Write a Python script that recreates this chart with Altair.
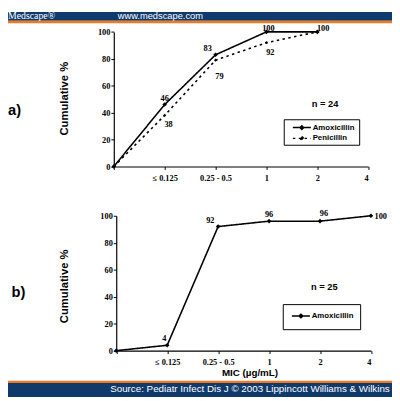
import json

import altair as alt
import pandas as pd

# MIC categories along x (first position is the unlabeled origin)
mic_labels = ["", "≤ 0.125", "0.25 - 0.5", "1", "2", "4"]

# panel a) n = 24
series_a = ["Amoxicillin", "Penicillin"]
amox_a = [0, 46, 83, 100, 100]
pen_a = [0, 38, 79, 92, 100]

# panel b) n = 25
series_b = ["Amoxicillin"]
amox_b = [0, 4, 92, 96, 96, 100]

df_a = pd.DataFrame({
    "pos": list(range(len(amox_a))) + list(range(len(pen_a))),
    "pct": amox_a + pen_a,
    "drug": [series_a[0]] * len(amox_a) + [series_a[1]] * len(pen_a),
})
df_b = pd.DataFrame({
    "pos": list(range(len(amox_b))),
    "pct": amox_b,
    "drug": [series_b[0]] * len(amox_b),
})

NAVY = "#103a6b"
ORANGE = "#f07a1e"
SERIF = "Liberation Serif"
SANS = "Liberation Sans"
W, H = 392, 393

tick_expr = json.dumps(mic_labels, ensure_ascii=False) + "[datum.value]"
legend_sym = "M-1,0H1M0,-0.2L0.2,0L0,0.2L-0.2,0Z"


def enc_xy(xr, yr, x_axis_y, y_axis_x, ytitle_x, ytitle_y, xtitle=None):
    xaxis = dict(orient="bottom", offset=x_axis_y - H, values=list(range(len(mic_labels))),
                 labelExpr=tick_expr, labelPadding=4, labelOverlap=False, title=None)
    if xtitle:
        xaxis.update(titleX=xtitle[1], titleY=xtitle[2], titleFontSize=10,
                     titleAlign="center", titleBaseline="middle")
        xaxis["title"] = xtitle[0]
    x = alt.X("pos:Q", scale=alt.Scale(domain=[0, 5], range=xr, nice=False, zero=False),
              axis=alt.Axis(**xaxis))
    y = alt.Y("pct:Q", scale=alt.Scale(domain=[0, 100], range=yr, nice=False),
              axis=alt.Axis(orient="left", offset=-y_axis_x, values=[0, 20, 40, 60, 80, 100],
                            labelPadding=1, title="Cumulative %", titleX=ytitle_x - y_axis_x,
                            titleY=ytitle_y, titleAngle=270, titleAlign="center",
                            titleBaseline="middle", titleFontSize=11.5))
    return x, y


def panel(df, series, dashes, x, y, leg_x, leg_y, offsets):
    line = alt.Chart(df).mark_line(color="black", strokeWidth=1.6).encode(
        x=x, y=y,
        strokeDash=alt.StrokeDash(
            "drug:N", scale=alt.Scale(domain=series, range=dashes),
            legend=alt.Legend(title=None, orient="none", legendX=leg_x, legendY=leg_y,
                              symbolType=legend_sym, symbolSize=340, symbolStrokeWidth=1.5,
                              symbolStrokeColor="black", symbolFillColor="black",
                              labelFont=SANS, labelFontWeight="bold", labelFontSize=8,
                              labelColor="black", labelOffset=1, rowPadding=3,
                              clipHeight=8, padding=0)),
    )
    layers = [line]
    for name, size in zip(series, [22, 10]):
        layers.append(alt.Chart(df).transform_filter(alt.datum.drug == name)
                      .mark_point(filled=True, shape="diamond", size=size, color="black",
                                  opacity=1)
                      .encode(x=x, y=y))
    for (name, idx), (dx, dy) in offsets.items():
        layers.append(alt.Chart(df)
                      .transform_filter((alt.datum.drug == name) & (alt.datum.pos == idx))
                      .mark_text(dx=dx, dy=dy, font=SERIF, fontWeight="bold", fontSize=8.5,
                                 color="black", baseline="middle")
                      .encode(x=x, y=y, text="pct:Q"))
    return alt.layer(*layers)


one = pd.DataFrame({"k": [0]})


def box(x1, x2, y1, y2, **kw):
    return alt.Chart(one).mark_rect(**kw).encode(
        x=alt.value(x1), x2=alt.value(x2), y=alt.value(y1), y2=alt.value(y2))


def note(text, x, y, **kw):
    return alt.Chart(one).mark_text(text=text, **kw).encode(x=alt.value(x), y=alt.value(y))


xa, ya = enc_xy([108, 367.7], [157.7, 20.3], 157.7, 108, 58, 88)
xb, yb = enc_xy([110.5, 370.5], [345.7, 208], 345.7, 110.5, 58, 279.5,
                xtitle=("MIC (µg/mL)", 246.5, 22.3))

labels_a = {
    ("Amoxicillin", 1): (0, -7), ("Amoxicillin", 2): (-8, -7),
    ("Amoxicillin", 3): (2, -4), ("Amoxicillin", 4): (6, -4),
    ("Penicillin", 1): (4, 9), ("Penicillin", 2): (4, 16), ("Penicillin", 3): (4, 10),
}
labels_b = {
    ("Amoxicillin", 1): (-3, -7), ("Amoxicillin", 2): (-8, -7), ("Amoxicillin", 3): (0, -7),
    ("Amoxicillin", 4): (4, -8), ("Amoxicillin", 5): (10, 0),
}

panel_a = panel(df_a, series_a, [[1, 0], [2.5, 3.5]], xa, ya, 290, 114, labels_a)
panel_b = panel(df_b, series_b, [[1, 0]], xb, yb, 289, 306.3, labels_b)

bold_sans = dict(font=SANS, fontWeight="bold", color="black")
decor = [
    box(0, W, 0, 9, color=NAVY),
    box(0, W, 9, 11.5, color=ORANGE),
    note("Medscape®", 0, 7.5, font=SERIF, fontSize=10, color="white", align="left",
         baseline="alphabetic"),
    note("www.medscape.com", 112, 7.5, font=SANS, fontSize=9.5, color="white", align="left",
         baseline="alphabetic"),
    box(0, W, 376.3, 378.7, color=ORANGE),
    box(0, W, 378.7, H, color=NAVY),
    note("Source: Pediatr Infect Dis J © 2003 Lippincott Williams & Wilkins", 389.7, 388.3,
         font=SANS, fontSize=10, color="white", align="right", baseline="alphabetic"),
    box(282, 359, 110, 136, fill="white", stroke="black", strokeWidth=1),
    box(281, 360, 298.7, 324.3, fill="white", stroke="black", strokeWidth=1),
    note("a)", 0, 100.3, fontSize=15, align="left", baseline="middle", **bold_sans),
    note("b)", 3.7, 286, fontSize=15, align="left", baseline="middle", **bold_sans),
    note("n = 24", 323.7, 93.7, fontSize=9.5, align="center", baseline="middle", **bold_sans),
    note("n = 25", 323, 280.3, fontSize=9.5, align="center", baseline="middle", **bold_sans),
]

chart = alt.layer(*decor, panel_a, panel_b).resolve_scale(
    x="independent", y="independent", strokeDash="independent"
).resolve_axis(
    x="independent", y="independent"
).resolve_legend(
    strokeDash="independent"
).properties(
    width=W, height=H, padding=0, autosize=alt.AutoSizeParams(type="none")
).configure_view(
    stroke=None
).configure_axis(
    grid=False, domainColor="black", domainWidth=1.2, tickColor="black", tickSize=3,
    labelFont=SERIF, labelFontWeight="bold", labelFontSize=8.5, labelColor="black",
    titleFont=SANS, titleFontWeight="bold", titleColor="black",
)

chart.save("out.html", embed_options={"renderer": "svg", "actions": False})
